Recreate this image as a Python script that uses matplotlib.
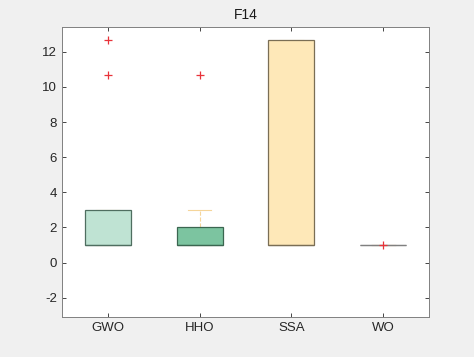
import matplotlib
matplotlib.use("Agg")
import matplotlib.pyplot as plt

# algorithms and box statistics
names = ["GWO", "HHO", "SSA", "WO"]
q1 = [1.0, 1.0, 1.0, 1.0]
med = [1.0, 1.0, 1.0, 1.0]
q3 = [3.0, 2.0, 12.65, 1.0]
whis_lo = [1.0, 1.0, 1.0, 1.0]
whis_hi = [3.0, 3.0, 12.65, 1.0]
outliers = [[10.7, 12.65], [10.7], [], [1.0]]

fills = ["#bfe3d3", "#7cc4a0", "#fee8b8", "#ffffff"]
edges = ["#4f6e60", "#3b6650", "#7a6e55", "#808080"]

plt.rcParams['font.family'] = ['Liberation Sans', 'DejaVu Sans']
plt.rcParams['axes.unicode_minus'] = False

fig = plt.figure(figsize=(4.74, 3.57), dpi=100, facecolor="#f0f0f0")
ax = fig.add_axes([0.1308, 0.112, 0.7742, 0.812])

stats = []
for i in range(len(names)):
    stats.append(dict(q1=q1[i], med=med[i], q3=q3[i], whislo=whis_lo[i],
                      whishi=whis_hi[i], fliers=outliers[i], label=names[i]))

bp = ax.bxp(stats, positions=range(1, 5), widths=0.5, patch_artist=True,
            showfliers=True,
            whiskerprops=dict(color="#f5d59a", linestyle="--", linewidth=0.8, zorder=1),
            capprops=dict(color="#f5d59a", linewidth=0.8, zorder=1),
            flierprops=dict(marker="+", markeredgecolor="#e8333a", markersize=6,
                            markeredgewidth=0.9, linestyle="none"))

for i, box in enumerate(bp['boxes']):
    box.set_facecolor(fills[i])
    box.set_edgecolor(edges[i])
    box.set_linewidth(0.9)
    box.set_zorder(3)
for i, m in enumerate(bp['medians']):
    m.set_color(edges[i])
    m.set_linewidth(0.9)
    m.set_zorder(3.5)
for f in bp['fliers']:
    f.set_zorder(5)

ax.set_xlim(0.5, 4.5)
ax.set_ylim(-3.1, 13.4)
ax.set_yticks([-2, 0, 2, 4, 6, 8, 10, 12])
ax.set_xticks(range(1, 5))
ax.set_xticklabels(names)
ax.tick_params(direction="in", top=True, right=True, length=3, width=0.6,
               colors="#262626", labelsize=9.5)
for s in ax.spines.values():
    s.set_color("#808080")
    s.set_linewidth(0.7)
ax.set_title("F14", fontsize=10, color="#1a1a1a")

fig.savefig("out.png", dpi=100, facecolor=fig.get_facecolor())
